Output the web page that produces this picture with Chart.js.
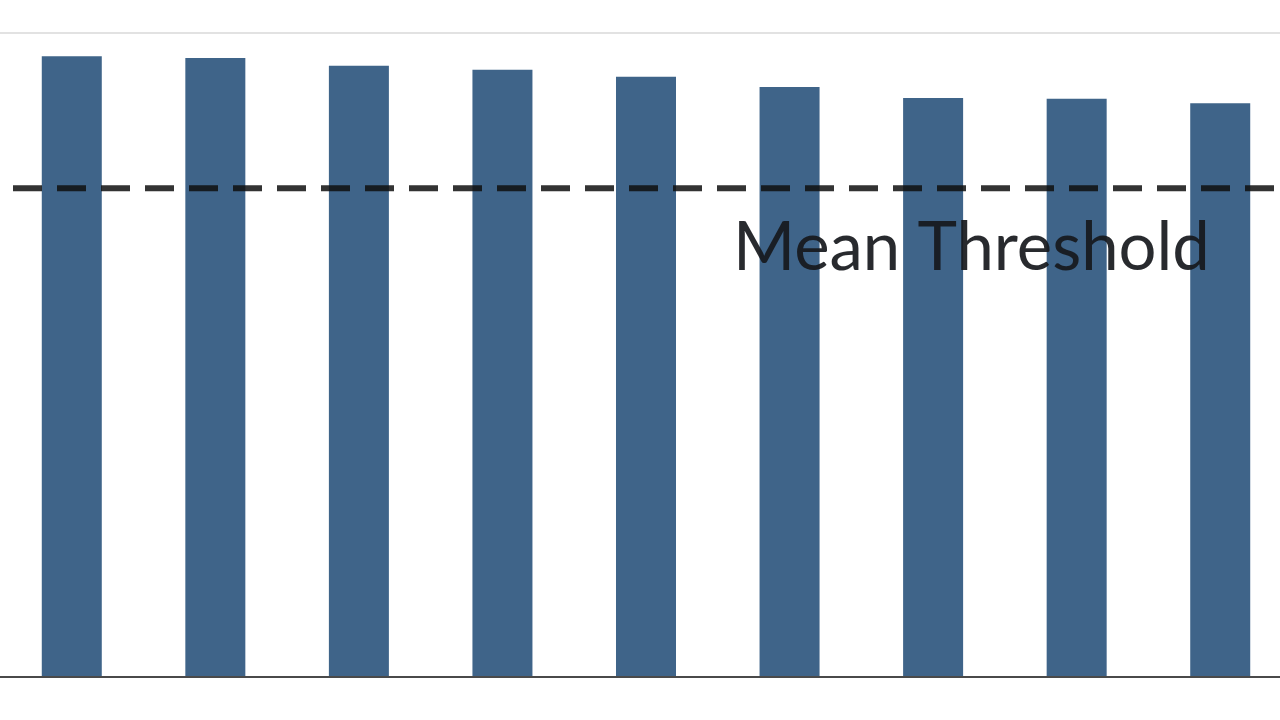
<!DOCTYPE html>
<html>
<head>
<meta charset="utf-8">
<script src="https://cdn.jsdelivr.net/npm/chart.js@4"></script>
<style>
html,body{margin:0;padding:0;background:#fff;overflow:hidden;width:1280px;height:720px;}
#wrap{position:absolute;left:0;top:0;width:1292px;height:720px;}
</style>
</head>
<body>
<div id="wrap"><canvas id="c"></canvas></div>
<script>
const categories = ["1","2","3","4","5","6","7","8","9"];
const values = [96.4, 96.1, 94.9, 94.3, 93.2, 91.6, 89.9, 89.8, 89.1];
const thresholdValue = 75.9;
const thresholdLabel = "Mean Threshold";

const labelPlugin = {
  id: 'thrLabel',
  afterDatasetsDraw(chart) {
    const ctx = chart.ctx;
    const y = chart.scales.y.getPixelForValue(thresholdValue);
    ctx.save();
    ctx.font = '67px Lato';
    ctx.fillStyle = 'rgba(22,24,28,0.92)';
    ctx.textBaseline = 'alphabetic';
    ctx.textAlign = 'left';
    ctx.fillText(thresholdLabel, 733, y + 82);
    ctx.restore();
  }
};

new Chart(document.getElementById('c'), {
  type: 'bar',
  data: {
    labels: categories,
    datasets: [
      {
        type: 'bar',
        data: values,
        backgroundColor: '#3f6489',
        categoryPercentage: 1,
        barPercentage: 0.418,
        grouped: false,
        order: 2
      },
      {
        type: 'line',
        xAxisID: 'x2',
        data: [{x:0, y:thresholdValue}, {x:1, y:thresholdValue}],
        borderColor: 'rgba(15,15,15,0.85)',
        borderWidth: 6,
        borderDash: [29, 15],
        borderDashOffset: 31,
        pointRadius: 0,
        fill: false,
        order: 1
      }
    ]
  },
  options: {
    responsive: true,
    maintainAspectRatio: false,
    animation: false,
    layout: { padding: { top: 33, bottom: 43, left: 0, right: 0 } },
    plugins: { legend: { display: false }, tooltip: { enabled: false } },
    scales: {
      x: {
        type: 'category',
        offset: true,
        grid: { display: false, drawTicks: false },
        ticks: { display: false },
        border: { display: true, color: '#4a4a4a', width: 2 }
      },
      x2: { type: 'linear', min: 0, max: 1, offset: false, display: false },
      y: {
        min: 0, max: 100,
        ticks: { display: false, stepSize: 100 },
        grid: {
          drawTicks: false,
          lineWidth: 2,
          color: (c) => c.tick && c.tick.value === 100 ? '#e2e2e2' : 'rgba(0,0,0,0)'
        },
        border: { display: false }
      }
    }
  },
  plugins: [labelPlugin]
});
</script>
</body>
</html>
